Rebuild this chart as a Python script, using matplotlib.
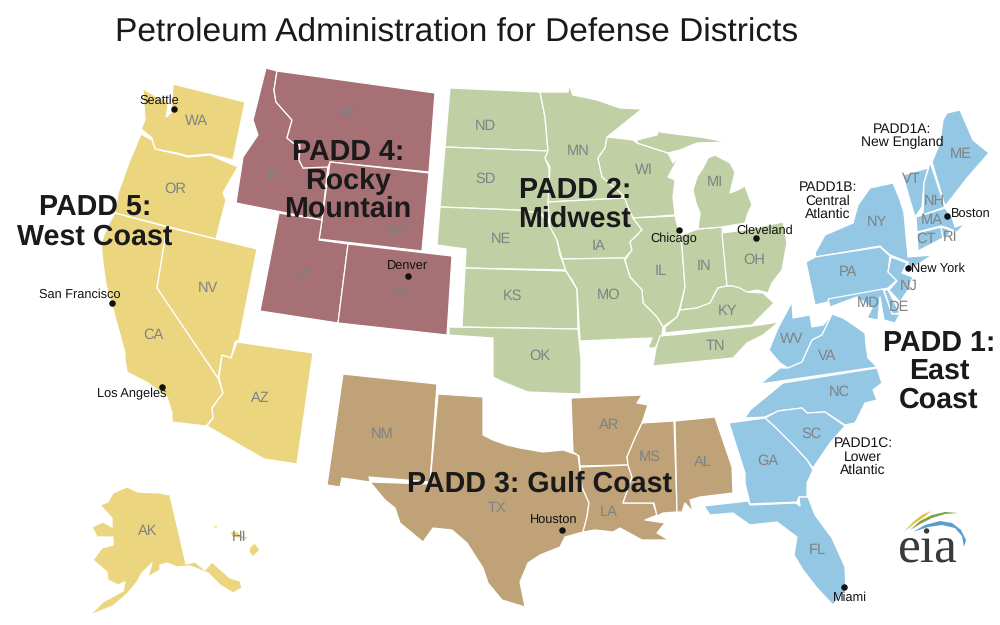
import matplotlib
matplotlib.use("Agg")
import matplotlib.pyplot as plt
from matplotlib.patches import Polygon

# ---- outlines (map coordinates) ----
WA = [(143,89),(157,97),(166,100),(168,107),(166,117),(171,113),(172,100),(173,84),(245,102),(233,160),(210,154),(188,156),(177,153),(155,149),(152,138),(141,129),(145,120),(144,105)]
OR = [(141,134),(152,140),(155,149),(177,154),(188,157),(210,155),(238,167),(228,184),(223,193),(226,200),(216,239),(115,213),(118,193),(130,160)]
CA = [(115,213),(167,227),(157,288),(218,378),(223,393),(212,408),(213,418),(206,426),(172,422),(172,413),(167,397),(148,383),(127,372),(125,360),(125,353),(116,320),(112,305),(106,285),(103,263),(101,243),(108,225)]
NV = [(167,227),(257,249),(239,340),(235,342),(231,358),(222,355),(218,378),(157,288)]
AZ = [(237,342),(313,353),(297,464),(264,459),(207,426),(213,418),(212,408),(223,393),(219,378),(222,355),(231,358)]
AK = [(127,487),(138,492),(160,493),(170,495),(186,564),(195,562),(205,570),(212,562),(230,578),(240,581),(242,588),(233,593),(220,585),(208,573),(190,566),(177,567),(167,563),(160,565),(160,570),(148,577),(152,563),(142,573),(137,582),(127,594),(113,606),(90,615),(103,602),(123,591),(125,582),(118,585),(108,580),(107,572),(93,560),(102,548),(113,545),(113,537),(97,537),(92,527),(103,522),(112,527),(112,518),(100,505),(108,502),(113,493)]
HI1 = [(250,547),(255,543),(260,550),(253,557),(249,552)]
HI2 = [(230,532),(236,531),(243,536),(248,537),(246,540),(238,538),(232,537)]
HI3 = [(213,526),(217,525),(218,528),(214,528)]

ID = [(266,68),(277,71),(274,90),(276,102),(292,120),(287,138),(293,143),(300,145),(299,160),(303,168),(328,166),(322,220),(236,203),(243,157),(258,135),(253,120)]
MT = [(277,71),(435,93),(429,172),(330,162),(328,167),(303,168),(299,160),(300,145),(293,143),(287,138),(292,120),(276,102),(274,90)]
WY = [(330,162),(429,173),(422,251),(319,239),(322,220)]
UT = [(279,213),(322,220),(319,240),(348,244),(338,323),(260,311)]
CO = [(348,244),(452,256),(447,335),(338,323)]

ND = [(450,88),(540,92),(545,117),(548,151),(445,147)]
SD = [(445,147),(548,151),(545,158),(549,168),(549,200),(550,220),(540,213),(517,210),(440,207)]
NE = [(440,207),(517,210),(540,213),(550,225),(557,240),(560,255),(566,270),(465,268),(466,249),(437,245)]
KS = [(465,268),(566,271),(572,281),(577,289),(578,329),(462,327)]
OK = [(449,327),(578,329),(581,360),(581,394),(553,393),(528,392),(503,382),(493,377),(493,338),(449,335)]
MN = [(540,92),(568,92),(569,85),(573,95),(597,100),(620,108),(642,109),(607,137),(605,148),(598,158),(602,177),(623,195),(625,198),(548,202),(550,167),(545,158),(548,151),(545,117)]
WI = [(607,137),(633,140),(637,143),(668,153),(673,163),(680,155),(668,177),(675,180),(673,197),(675,215),(633,218),(627,205),(623,195),(602,177),(598,158),(605,148)]
IA = [(548,202),(625,198),(627,205),(633,218),(642,230),(630,242),(632,250),(625,258),(562,259),(557,240),(550,227)]
IL = [(633,218),(675,216),(678,228),(682,247),(685,287),(680,307),(677,317),(663,327),(657,317),(643,303),(642,290),(630,277),(625,260),(632,250),(630,242),(642,230)]
MO = [(562,259),(624,258),(630,277),(642,290),(643,303),(657,317),(663,327),(662,335),(655,348),(648,348),(652,338),(580,341),(577,289),(572,280),(566,271)]
IN = [(681,235),(698,229),(722,227),(727,286),(718,288),(710,303),(697,308),(680,310),(685,287),(682,247)]
MI_L = [(698,229),(722,227),(745,223),(748,213),(752,205),(745,186),(738,190),(730,193),(735,172),(730,163),(715,155),(708,158),(703,168),(697,177),(693,190),(696,203),(700,213)]
MI_U = [(637,143),(637,140),(657,135),(662,122),(660,132),(683,135),(700,137),(727,142),(697,143),(680,150),(668,153)]
OH = [(722,233),(745,230),(783,222),(787,243),(782,270),(772,283),(768,293),(757,290),(743,293),(732,286),(727,286)]
KY = [(727,286),(718,288),(710,303),(697,308),(680,310),(677,317),(665,327),(665,333),(683,331),(752,325),(774,303),(763,293),(747,292),(740,288),(733,286)]
TN = [(660,336),(683,334),(752,326),(779,322),(763,335),(747,343),(733,358),(653,366),(656,348)]

NM = [(343,374),(437,384),(430,482),(369,477),(370,482),(342,478),(340,487),(327,485)]
TX = [(438,394),(483,397),(483,435),(493,440),(507,445),(520,448),(543,452),(563,450),(578,455),(582,487),(589,503),(587,517),(583,532),(565,537),(560,547),(540,555),(528,563),(520,582),(525,607),(502,600),(488,583),(483,568),(467,543),(452,530),(433,528),(423,542),(400,523),(395,508),(385,500),(370,482),(430,484)]
AR = [(571,398),(642,395),(637,403),(648,405),(642,423),(635,438),(627,457),(628,465),(580,466),(579,456),(573,452)]
LA = [(580,467),(628,465),(632,477),(623,503),(653,503),(657,515),(645,520),(665,523),(657,533),(669,540),(642,540),(620,528),(613,532),(595,530),(583,532),(587,517),(589,503),(582,487)]
MS = [(642,423),(674,421),(677,512),(663,513),(657,516),(654,503),(623,503),(632,477),(628,465),(627,457),(635,438)]
AL = [(675,421),(715,417),(732,467),(733,493),(700,497),(690,500),(693,512),(685,503),(682,512),(677,512)]

NY = [(893,183),(900,200),(904,213),(908,257),(932,255),(913,268),(907,270),(908,262),(890,255),(880,246),(816,257),(815,253),(825,235),(853,223),(858,205),(870,188)]
PA = [(806,262),(815,257),(880,247),(890,256),(888,272),(897,280),(888,288),(815,305)]
NJ = [(891,257),(907,263),(902,273),(913,277),(908,290),(900,302),(889,290),(897,281),(888,272)]
DE = [(884,290),(888,290),(900,313),(892,314)]
MD = [(828,299),(883,289),(892,314),(900,314),(895,323),(884,320),(880,297),(878,320),(867,318),(872,308),(857,297),(830,307)]
VT = [(903,175),(928,168),(924,183),(922,207),(915,217),(909,197)]
NH = [(930,162),(945,207),(923,215),(924,183),(928,170)]
ME = [(943,120),(947,113),(960,110),(973,140),(989,153),(967,178),(950,200),(945,206),(932,162),(940,143)]
MA = [(916,217),(945,208),(952,217),(955,227),(965,224),(957,232),(948,228),(941,226),(917,232)]
CT = [(917,233),(941,227),(943,238),(918,251)]
RI = [(941,227),(948,229),(950,234),(943,238)]
WV = [(792,302),(793,318),(810,315),(812,327),(823,325),(832,315),(822,335),(812,340),(802,362),(788,368),(780,363),(769,350),(778,328)]
VA = [(822,335),(832,314),(843,318),(855,326),(865,333),(866,345),(868,358),(877,367),(760,384),(780,368),(788,368),(802,362),(812,340)]
NC = [(877,368),(882,383),(873,390),(877,400),(865,403),(855,423),(845,425),(825,412),(807,413),(802,408),(778,411),(765,417),(745,418),(750,410),(783,383)]
SC = [(765,418),(778,411),(802,408),(807,413),(825,412),(845,426),(830,443),(813,468),(807,460),(793,445),(775,427)]
GA = [(729,423),(765,418),(775,427),(793,445),(807,460),(813,470),(807,483),(807,497),(799,497),(797,502),(750,504),(745,483),(745,473)]
FL = [(704,506),(748,501),(750,505),(796,503),(800,506),(799,497),(808,497),(815,515),(832,538),(845,567),(846,590),(833,605),(817,588),(803,570),(794,555),(797,537),(777,522),(750,525),(733,513),(710,515)]

PADD1 = [NY, PA, NJ, DE, MD, VT, NH, ME, MA, CT, RI, WV, VA, NC, SC, GA, FL]
PADD2 = [ND, SD, NE, KS, OK, MN, WI, IA, IL, MO, IN, MI_L, MI_U, OH, KY, TN]
PADD3 = [NM, TX, AR, LA, MS, AL]
PADD4 = [ID, MT, WY, UT, CO]
PADD5 = [WA, OR, CA, NV, AZ, AK, HI1, HI2, HI3]
PADD_SHAPES = [PADD1, PADD2, PADD3, PADD4, PADD5]
PADD_COLORS = ["#93C7E3", "#C0D0A4", "#BFA277", "#A67074", "#EBD67F"]

STATE_LABELS = ["WA","OR","CA","NV","AZ","AK","HI","ID","MT","WY","UT","CO","ND","SD","NE","KS","OK","MN","WI","IA","IL","MO","IN","MI","OH","KY","TN","NM","TX","AR","LA","MS","AL","NY","PA","NJ","DE","MD","VT","NH","ME","MA","CT","RI","WV","VA","NC","SC","GA","FL"]
STATE_X = [196,175,153,208,260,148,239,273,348,399,303,400,485,485,501,513,540,578,644,599,661,609,704,715,754,728,715,382,497,609,609,650,703,877,848,909,899,868,911,934,961,932,926,950,792,827,839,811,768,817]
STATE_Y = [121,189,335,288,398,531,537,176,113,231,276,294,126,179,239,296,356,151,170,246,271,295,266,182,260,311,346,434,508,425,512,457,462,222,272,286,307,303,179,201,154,220,239,237,339,356,392,434,461,550]

CITY_NAMES = ["Seattle","San Francisco","Los Angeles","Denver","Chicago","Cleveland","Houston","New York","Boston","Miami"]
CITY_X = [174,112,162,408,679,756,562,908,947,844]
CITY_Y = [109,303,387,276,230,238,530,268,216,587]
CITY_TX = [159,80,132,408,674,765,554,938,971,850]
CITY_TY = [101,295,394,267,239,231,521,269,215,598]

SUB_TEXT = ["PADD1A:\nNew England","PADD1B:\nCentral\nAtlantic","PADD1C:\nLower\nAtlantic"]
SUB_X = [902,828,863]
SUB_Y = [136,201,457]

BIG_TEXT = ["PADD 1:\nEast\nCoast","PADD 2:\nMidwest","PADD 3: Gulf Coast","PADD 4:\nRocky\nMountain","PADD 5:\nWest Coast"]
BIG_X = [939,575,540,348,95]
BIG_Y = [372,205,484,181,223]

TITLE = "Petroleum Administration for Defense Districts"

LOGO_YELLOW = [(904,532),(913,522),(922,515),(931,511),(924,517),(915,523)]
LOGO_GREEN = [(910,530),(920,521),(932,515),(945,512),(958,513),(945,514),(932,518),(920,524)]
LOGO_BLUE = [(913,532),(925,525),(940,521),(952,523),(961,530),(966,540),(964,547),(962,536),(955,528),(942,525),(928,527)]

# ---- drawing ----
plt.rcParams["font.family"] = ["Liberation Sans", "DejaVu Sans"]
plt.rcParams["text.hinting"] = "no_hinting"
fig = plt.figure(figsize=(10, 6.25), dpi=100)
ax = fig.add_axes([0, 0, 1, 1])
ax.set_xlim(0, 1000)
ax.set_ylim(625, 0)
ax.axis("off")

for shapes, col in zip(PADD_SHAPES, PADD_COLORS):
    for s in shapes:
        ax.add_patch(Polygon(s, closed=True, facecolor=col, edgecolor="white", linewidth=0.9, joinstyle="round", zorder=2))

ax.add_patch(Polygon(LOGO_YELLOW, closed=True, facecolor="#E3BE3A", edgecolor="none", zorder=2))
ax.add_patch(Polygon(LOGO_GREEN, closed=True, facecolor="#7FA04A", edgecolor="none", zorder=2))
ax.add_patch(Polygon(LOGO_BLUE, closed=True, facecolor="#5B9BD0", edgecolor="none", zorder=2))
ax.text(928, 550, "eia", family="Liberation Serif", fontsize=37, color="#3A3A3A", ha="center", va="center", zorder=3)

for t, x, y in zip(STATE_LABELS, STATE_X, STATE_Y):
    ax.text(x, y, t, fontsize=10.5, color="#7F8286", ha="center", va="center", zorder=3)

ax.scatter(CITY_X, CITY_Y, s=22, color="#111111", linewidths=0, zorder=5)
for t, x, y in zip(CITY_NAMES, CITY_TX, CITY_TY):
    ax.text(x, y, t, fontsize=9.2, color="#111111", ha="center", va="center", zorder=6)

for t, x, y in zip(SUB_TEXT, SUB_X, SUB_Y):
    ax.text(x, y, t, fontsize=10, color="#111111", ha="center", va="center", linespacing=1.05, zorder=6)

for t, x, y in zip(BIG_TEXT, BIG_X, BIG_Y):
    ax.text(x, y, t, fontsize=20.6, fontweight="bold", color="#1A1A1A", ha="center", va="center", linespacing=1.08, zorder=6)

ax.text(457, 33, TITLE, fontsize=24.1, color="#1A1A1A", ha="center", va="center", zorder=6)

fig.savefig("out.png", dpi=100, facecolor="white")
